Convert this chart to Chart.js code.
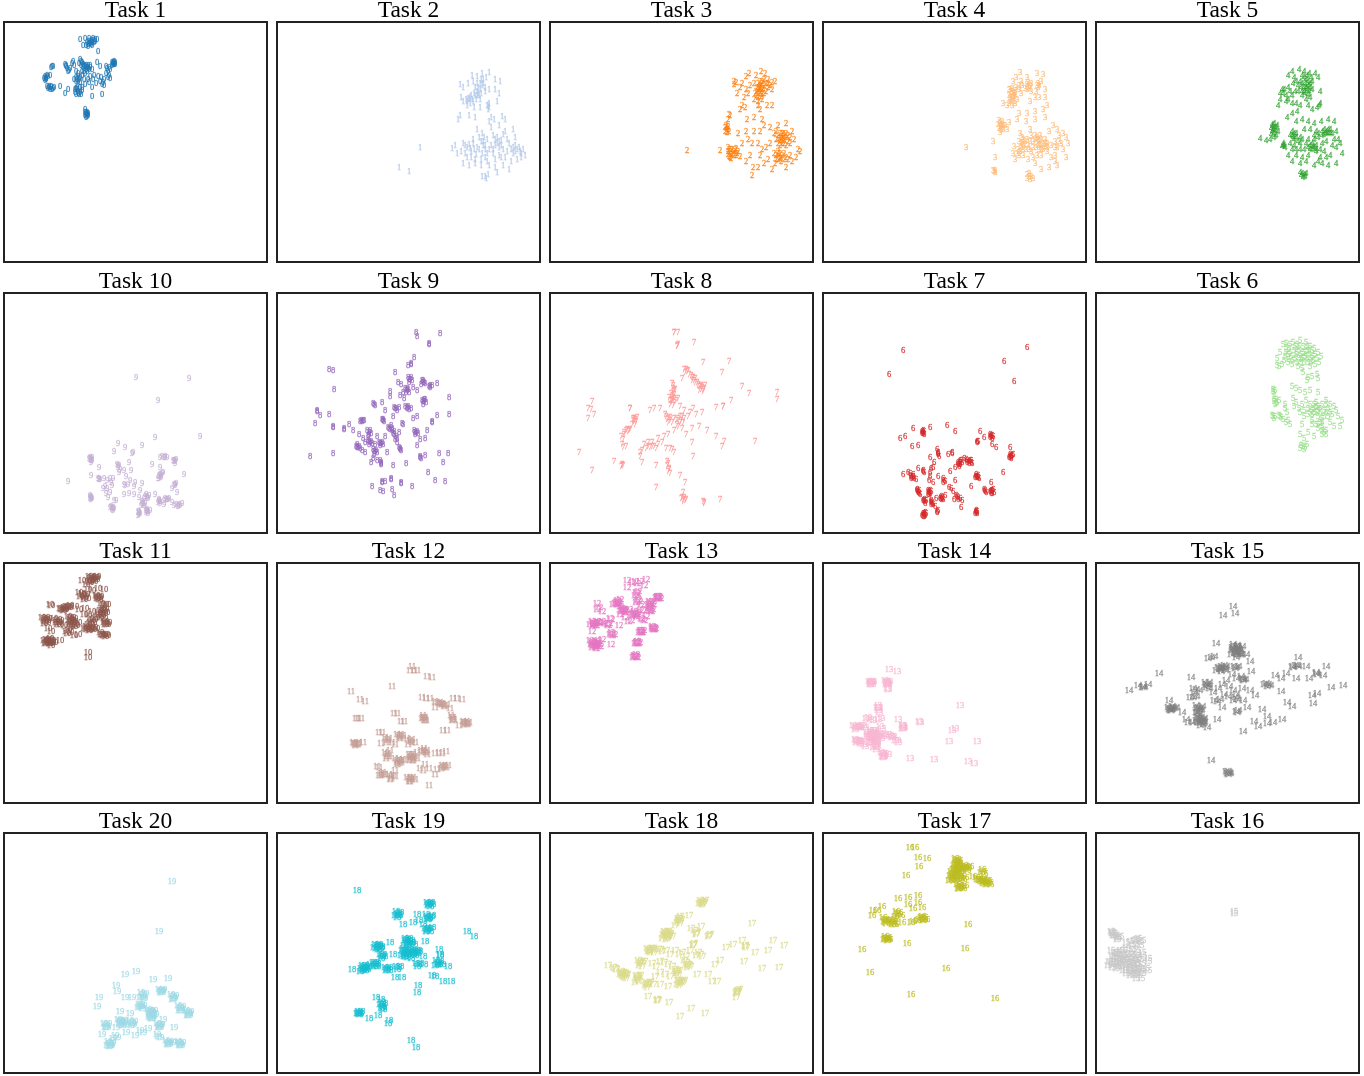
<!DOCTYPE html>
<html>
<head>
<meta charset="utf-8">
<title>Task embeddings</title>
<script src="https://cdn.jsdelivr.net/npm/chart.js@4/dist/chart.umd.min.js"></script>
<style>
	html, body { margin: 0; padding: 0; background: #fff; }
	#grid { position: relative; width: 1364px; height: 1076px; overflow: hidden; }
	#grid canvas { position: absolute; }
</style>
</head>
<body>
<div id="grid"></div>
<script>
// Embedding values, one list per task: [x, y]
var task1 = [[76,18],[81,17],[85,17],[89,17],[93,18],[88,21],[86,22],[84,23],[90,21],[82,24],[87,23],[91,20],[85,20],[79,24],[87,19],[94,30],[48,45],[47,46],[49,45],
	[61,43],[62,45],[64,50],[66,47],[69,40],[76,38],[77,40],[78,41],[75,42],[79,46],[80,44],[83,46],[82,48],[86,46],[85,48],[83,50],[81,52],[74,55],[73,58],[76,56],[75,58],[72,56],[78,54],
	[93,41],[96,45],[102,45],[106,48],[104,50],[104,56],[106,57],[105,54],[98,63],[96,60],[99,61],[100,58],[89,58],[90,54],[84,58],[85,61],[81,63],[88,66],[92,62],[73,68],[71,71],[76,71],[74,70],[72,67],[75,73],[78,69],[61,72],[64,68],[88,75],[98,73],[56,65],
	[41,55],[42,57],[40,57],[43,54],[46,54],[41,59],[43,65],[45,66],[47,66],[49,67],[50,66],[44,67],[46,68],[81,88],[82,91],[83,93],[81,94],[83,95],[82,96],[84,94],[82,93],[109,42],[110,43],[109,43],[110,42],[109,41],[111,41],
	[62,44],[63,47],[65,49],[68,42],[70,44],[72,50],[74,52],[77,44],[79,43],[81,45],[84,44],[86,44],[88,48],[84,47],[82,44],[78,50],[80,50],[74,60],[76,61],[72,60],[70,58],[80,58],[86,55],[94,55],[97,56],[100,64],[102,52],[103,47],[105,46],[73,66],[76,66],[78,66],[71,68],[74,72],[77,73],[72,73],[42,56],[44,55],[42,58],[47,65],[48,68],[45,65],[108,41],[110,40],[111,43],[108,44],[83,91],[81,91],[84,92],[85,22],[87,21],[89,19],[83,21],[91,18],[88,24],[84,25]];
var task2 = [[183,63],[186,66],[191,62],[195,54],[200,55],[205,52],[212,51],[218,58],[223,60],[204,58],[206,62],[200,62],[196,60],[184,76],[186,80],[190,80],[193,76],[195,78],[198,74],[200,70],[203,68],[205,64],[202,74],[199,78],[203,78],[208,70],[212,68],[218,68],[222,72],[190,84],[197,86],[203,86],[210,84],[211,88],[212,82],[220,80],[212,86],[211,84],[192,78],[201,72],[204,72],
	[181,98],[183,94],[192,94],[198,96],[214,96],[217,98],[225,95],[228,98],[143,126],[122,146],[132,150],[208,155],[205,155],[209,157],[211,153],[220,151],
	[175,127],[178,124],[180,132],[184,130],[186,122],[188,132],[190,136],[192,123],[193,127],[196,118],[197,128],[199,133],[200,108],[202,116],[204,120],[206,124],[208,128],[205,132],[208,136],[210,140],[204,144],[214,106],[216,114],[218,118],[220,122],[222,126],[224,119],[226,113],[228,110],[230,118],[232,122],[234,128],[236,132],[238,124],[240,128],[243,130],[246,128],[248,134],[244,136],[240,138],[234,140],[228,136],[222,134],[216,132],[212,144],[218,146],[226,144],[232,148],[198,142],[192,144],[186,142],[205,112],[212,100],[222,104],[236,108],[238,116],[210,118],[214,124],[216,128],[196,122],
	[191,77],[194,74],[197,72],[200,74],[189,78],[196,80],[193,82],[201,66],[203,62],[206,58],[208,66],[209,56],[198,66],[188,124],[190,126],[194,130],[200,126],[202,128],[206,120],[207,116],[208,124],[210,132],[212,128],[218,124],[220,116],[222,120],[224,124],[226,128],[230,130],[236,126],[238,130],[242,126],[244,132],[224,136],[218,138],[204,138],[198,138],[194,136]];
var task3 = [[184,60],[184,63],[186,61],[192,62],[196,55],[199,52],[206,54],[211,50],[215,52],[218,58],[222,61],[225,60],[212,60],[214,64],[210,66],[208,68],[212,68],[206,70],[209,72],[214,72],[211,75],[207,74],[218,66],[222,68],[204,62],[200,64],[196,68],[190,66],[187,72],[194,76],[198,72],[204,78],[208,80],[192,84],[190,88],[195,86],[208,84],[210,88],[217,84],[222,84],[209,68],[211,70],[213,67],[210,64],
	[179,93],[180,94],[178,98],[176,106],[177,108],[175,110],[177,111],[178,105],[180,130],[179,128],[181,133],[178,133],[180,136],[184,130],[186,127],[188,130],[186,134],[190,135],[184,134],[182,128],[170,129],[137,129],
	[197,98],[204,96],[212,98],[214,104],[220,106],[228,104],[236,102],[210,110],[224,112],[228,114],[231,116],[234,118],[230,119],[236,112],[240,116],[232,122],[228,122],[236,124],[238,120],[242,110],[244,118],[248,128],[246,136],[240,134],[232,134],[230,137],[226,134],[228,130],[234,138],[231,140],[225,142],[218,138],[212,128],[208,122],[202,122],[198,118],[192,122],[188,112],[196,110],[204,110],[210,134],[216,126],[220,122],[214,142],[208,146],[203,146],[202,154],[196,140],[200,134],[222,148],[236,146],[242,140],[250,130],[229,117],[233,115],[232,119],[230,136],[228,138],
	[208,62],[210,60],[212,62],[216,62],[214,58],[218,62],[207,66],[209,66],[212,72],[208,76],[212,78],[205,72],[216,70],[220,64],[176,104],[178,108],[175,106],[179,110],[178,126],[181,128],[178,130],[183,132],[179,135],[181,137],[185,128],[187,132],[226,110],[230,112],[233,112],[236,116],[234,122],[230,124],[226,118],[238,114],[240,122],[234,114],[232,112],[228,132],[234,132],[236,136],[226,138],[230,132],[238,138],[224,132]];
var task4 = [[197,51],[193,56],[190,60],[198,60],[204,56],[214,52],[220,53],[218,60],[222,68],[215,62],[215,66],[213,70],[204,63],[204,65],[206,67],[202,67],[208,62],[208,70],[186,68],[188,70],[190,71],[192,69],[189,73],[186,74],[191,75],[187,76],[193,66],[196,64],[198,72],[188,79],[190,80],[186,82],[189,84],[192,82],[194,78],[180,82],[184,84],[207,80],[212,76],[216,76],[222,76],
	[212,90],[220,88],[224,84],[196,92],[204,92],[212,98],[222,96],[176,99],[179,100],[175,103],[178,104],[176,107],[180,108],[177,111],[182,104],[184,108],[186,101],[194,98],[203,100],[143,126],[170,120],[172,136],[171,150],[172,151],[170,149],[172,149],[206,155],[204,153],[208,155],[206,152],[210,157],[204,157],[207,158],
	[197,112],[199,116],[196,120],[199,121],[201,124],[198,126],[203,128],[195,128],[191,125],[190,132],[192,138],[196,134],[200,134],[205,138],[208,130],[210,126],[212,118],[215,118],[217,114],[214,122],[218,124],[222,125],[220,128],[224,122],[222,118],[224,130],[218,134],[216,128],[226,110],[230,104],[234,108],[236,114],[240,112],[243,116],[245,122],[238,122],[240,128],[243,136],[232,134],[232,140],[234,144],[226,146],[218,148],[212,142],[204,118],[208,114],[207,108],[232,120],[228,124],
	[187,68],[189,67],[191,72],[187,78],[190,76],[192,74],[196,68],[199,64],[205,61],[207,64],[204,68],[214,64],[216,64],[177,101],[179,104],[177,105],[180,104],[178,108],[200,118],[198,122],[202,120],[200,128],[205,124],[207,120],[210,120],[212,114],[214,116],[216,120],[218,118],[220,122],[222,122],[224,126],[216,124],[218,128],[213,126],[206,128],[194,132],[197,130],[236,120],[234,126],[232,126],[210,136],[214,134],[228,136]];
var task5 = [[192,54],[196,50],[203,48],[208,50],[213,52],[219,52],[222,56],[208,56],[210,58],[212,60],[209,62],[212,64],[214,66],[211,68],[213,70],[209,72],[212,73],[216,68],[200,60],[197,62],[205,66],[202,70],[186,68],[184,72],[190,74],[188,68],[196,74],[224,70],[214,76],[210,78],[206,74],[190,80],[184,78],[182,84],[196,82],[200,82],[204,84],[212,84],[216,88],[223,84],[221,86],[224,82],[201,90],[196,92],
	[176,103],[178,102],[181,104],[175,107],[177,108],[179,109],[176,110],[178,112],[180,114],[175,113],[164,117],[170,119],[174,118],[187,122],[188,124],[186,125],[189,126],[187,124],[178,116],
	[191,96],[200,100],[206,98],[212,100],[218,102],[225,100],[232,98],[238,100],[208,108],[214,108],[220,110],[226,110],[230,110],[232,112],[234,108],[228,113],[236,112],[240,110],[196,110],[198,112],[200,116],[194,114],[202,120],[194,122],[198,124],[204,122],[210,122],[214,124],[217,125],[220,124],[216,128],[220,128],[226,122],[230,120],[236,124],[240,126],[244,122],[246,132],[234,134],[228,130],[224,136],[220,130],[212,134],[206,136],[200,134],[192,134],[196,140],[204,142],[210,140],[218,144],[226,142],[232,144],[240,142],[206,152],[208,153],[205,154],[207,156],[209,155],[204,151],[210,152],
	[206,54],[211,54],[215,56],[204,60],[206,62],[216,60],[214,62],[208,66],[210,66],[206,70],[208,70],[202,64],[198,56],[192,66],[194,70],[187,72],[192,78],[199,70],[180,106],[182,110],[176,105],[178,106],[196,114],[197,116],[198,118],[200,112],[204,116],[206,118],[212,118],[216,122],[218,118],[222,116],[228,108],[230,112],[232,108],[234,112],[226,114],[222,112],[218,114],[214,128],[218,126],[212,126],[208,128],[204,128],[200,128],[196,128],[238,118],[242,118],[224,128],[230,136],[222,140]];
var task6 = [[181,66],[184,60],[187,52],[190,51],[193,56],[197,50],[201,52],[204,48],[210,50],[214,54],[218,56],[222,60],[225,64],[223,70],[219,72],[214,74],[206,76],[202,74],[196,72],[192,70],[188,68],[186,72],[183,74],[198,58],[200,62],[203,58],[205,62],[207,60],[209,64],[211,58],[213,62],[215,66],[207,66],[203,66],[199,66],[195,64],[192,62],[208,70],[212,70],[217,64],[181,73],
	[207,80],[212,85],[211,88],[221,82],[222,86],[216,84],[177,99],[178,100],[180,107],[178,109],[181,110],[183,108],[179,112],[189,112],[189,116],[177,124],[178,126],[185,125],[183,123],[187,127],[190,130],[194,132],[192,128],[191,120],[196,94],[200,96],[204,98],[209,100],[214,98],[222,100],[197,106],[200,110],[198,114],[203,116],[206,112],[210,108],[214,112],[204,120],[208,124],[212,122],[216,118],[220,110],[222,114],[224,120],[226,112],[230,108],[234,112],[238,114],[240,118],[236,122],[232,124],[228,118],[226,126],[224,130],[220,132],[216,128],[222,136],[226,138],[230,142],[234,130],[242,124],[246,128],[244,134],[238,134],[218,144],[212,140],[206,132],[208,146],[204,142],[205,153],[207,154],[209,155],[204,156],[211,152],[208,157],[218,112],[222,124],[220,120],[226,142],
	[190,55],[194,52],[199,54],[203,54],[207,54],[211,54],[216,58],[219,62],[221,66],[190,60],[194,60],[201,60],[205,66],[209,60],[213,58],[217,68],[211,66],[201,70],[197,68],[193,67],[189,64],[205,70],[215,70],[177,97],[179,98],[178,107],[180,111],[176,123],[179,124],[184,124],[218,116],[220,114],[222,118],[218,120],[216,122],[224,116],[230,112],[232,116],[234,120],[230,120],[228,124],[226,134],[222,132],[226,130],[230,138],[228,140],[216,132],[214,120],[212,116],[208,118]];
var task7 = [[80,58],[66,82],[204,55],[181,69],[191,89],[77,146],[82,144],[90,136],[107,135],[100,138],[100,140],[101,142],[99,141],[101,139],[124,133],[132,139],[157,139],[161,145],[167,142],[168,144],[169,146],[170,144],[167,145],[154,149],[154,150],[155,149],[169,152],[173,155],[187,155],[187,162],[188,164],[189,163],[188,166],[190,162],[186,165],[89,154],[95,153],[114,157],[115,160],[115,162],[116,164],[107,165],[125,162],[129,160],[129,161],
	[135,170],[137,168],[137,172],[136,174],[139,170],[141,166],[143,167],[144,168],[146,169],[148,170],[149,171],[147,168],[153,182],[154,184],[156,186],[155,183],[152,185],[180,180],[148,194],[161,197],[162,198],[163,200],[170,197],[169,199],[168,201],[171,200],[167,199],[168,190],[87,181],[88,184],[90,184],[91,186],[93,187],[85,180],[100,178],[100,179],[101,180],[107,180],[107,184],[106,188],[108,176],[110,190],
	[94,198],[95,199],[96,201],[97,202],[94,197],[105,198],[106,200],[107,201],[105,202],[108,199],[100,208],[101,209],[102,211],[103,208],[108,209],[109,210],[110,212],[108,212],[118,204],[119,205],[120,207],[117,206],[122,203],[133,203],[135,205],[137,206],[139,208],[131,207],[100,221],[101,222],[102,223],[99,223],[103,221],[100,224],[114,219],[115,218],[114,220],[153,219],[153,220],[154,221],[152,221],[138,215],[80,182],[95,176],[115,184],[120,186],[121,188],[122,189],[120,190],[127,179],[132,175],[132,188],[126,195],[111,170],[110,175],[112,214],[113,206],[130,199],[128,196],
	[100,141],[99,139],[168,143],[169,143],[188,163],[187,165],[137,170],[136,172],[138,168],[135,172],[144,170],[146,171],[148,168],[154,185],[155,185],[153,184],[162,199],[169,198],[169,201],[168,198],[89,185],[90,182],[88,186],[95,200],[96,198],[106,199],[107,198],[106,202],[101,207],[102,208],[109,211],[108,208],[119,206],[118,207],[101,221],[102,220],[101,224],[153,218],[154,219],[115,161],[135,207],[134,204]];
var task8 = [[124,40],[124,40],[128,40],[127,53],[127,54],[128,52],[144,50],[153,70],[179,69],[172,80],[192,94],[199,101],[227,100],[227,107],[181,108],[166,115],[173,114],[173,114],[80,116],[80,116],[42,109],[38,116],[41,117],[44,122],[38,126],[29,160],[42,178],[64,169],[72,172],[72,173],[73,173],[71,174],[106,195],
	[134,77],[136,77],[138,78],[135,80],[132,86],[141,83],[143,85],[145,86],[142,88],[145,90],[148,92],[150,94],[152,95],[154,96],[151,97],[153,99],[155,93],[149,98],[122,91],[123,96],[123,99],[125,97],[121,101],[124,102],[119,105],[122,107],[122,109],[124,110],[120,112],[123,113],[126,108],[128,106],[130,114],[134,118],
	[83,126],[85,127],[87,125],[84,129],[82,132],[85,132],[76,138],[78,139],[80,137],[74,142],[71,144],[73,147],[72,152],[73,155],[76,154],[100,118],[104,116],[110,116],[115,122],[117,127],[120,125],[118,130],[122,130],[126,128],[130,124],[131,128],[134,126],[127,132],[133,130],[138,124],[140,120],[143,116],[132,136],[136,142],[124,138],[118,142],[114,144],[108,146],[102,150],[98,150],[94,152],[92,158],[90,164],[92,170],[100,155],[104,154],[108,152],[112,150],[116,156],[120,156],[122,157],[124,160],[117,169],[118,171],[119,176],[118,179],[120,181],[130,183],[135,190],[133,200],[131,206],[133,207],[135,208],[133,209],[136,207],[153,209],[154,211],[170,207],[142,150],[143,164],[205,149],[172,154],[174,149],[166,144],[157,138],[149,134],[142,136],[106,173],[152,120],[146,122],
	[137,79],[139,82],[142,85],[144,88],[147,90],[149,94],[151,93],[153,97],[123,93],[124,98],[122,103],[123,105],[121,108],[124,106],[120,108],[84,126],[86,129],[83,128],[77,137],[79,138],[74,140],[96,156],[98,154],[102,154],[106,156],[90,160],[116,124],[118,126],[120,128],[124,126],[128,126],[130,130],[128,134],[132,124],[119,177],[117,173],[134,205],[132,205],[154,210]];
var task9 = [[139,40],[140,44],[163,41],[152,51],[152,52],[137,65],[134,72],[134,71],[131,73],[52,77],[56,78],[118,80],[57,97],[40,119],[40,118],[43,123],[52,122],[38,131],[56,134],[56,135],[67,136],[67,137],[33,164],[56,161],
	[131,85],[133,87],[135,88],[132,90],[128,96],[130,98],[132,100],[129,100],[145,88],[146,90],[148,91],[144,92],[152,94],[153,95],[155,93],[145,108],[147,109],[149,110],[146,112],[148,107],[117,115],[119,116],[120,118],[122,115],[128,114],[130,115],[132,117],[134,116],[137,138],[139,140],[141,141],[138,142],[111,135],[113,137],[115,138],[116,141],[117,142],[119,144],[114,133],[118,147],[120,150],
	[90,138],[92,140],[94,141],[91,143],[91,148],[93,150],[95,151],[92,152],[79,154],[81,155],[83,156],[85,158],[80,152],[102,150],[104,151],[106,152],[103,153],[96,157],[98,159],[100,160],[97,162],[103,168],[104,170],[104,172],[96,166],[83,129],[85,129],[87,128],[105,127],[106,128],[107,129],[96,111],[97,112],[98,113],[122,155],[123,156],[124,158],[125,131],[126,132],
	[172,105],[160,91],[172,122],[160,123],[155,129],[155,130],[150,138],[148,146],[143,147],[140,153],[148,163],[143,164],[143,165],[144,166],[162,161],[171,161],[166,170],[151,180],[158,188],[168,189],[135,194],[124,190],[124,191],[117,203],[115,197],[106,199],[103,198],[95,194],[105,189],[105,190],[108,189],[114,186],[114,187],[116,173],[129,171],[105,110],[113,99],[113,104],[121,90],[123,103],[140,124],[127,106],[116,124],[108,118],[72,132],[76,138],[82,142],[88,160],[94,170],[110,160],[136,126],
	[132,87],[134,85],[130,96],[131,97],[146,88],[147,90],[153,93],[146,109],[147,107],[118,116],[130,116],[131,114],[138,140],[140,139],[112,136],[115,136],[117,139],[92,142],[93,138],[92,149],[94,149],[80,155],[82,154],[103,151],[105,150],[97,159],[99,158],[104,171],[84,128],[86,128],[106,127],[123,157],[120,146],[122,140],[108,144],[100,144],[98,152],[88,150],[86,146],[100,168],[136,95],[140,98],[124,92],[126,100]];
var task10 = [[132,85],[185,86],[154,108],[151,145],[196,144],[64,189],[86,165],[87,167],[88,168],[85,166],[88,165],[87,170],[86,203],[87,205],[87,207],[88,206],[86,206],[107,214],[108,216],[109,218],[110,216],[106,215],[134,219],[135,220],[134,223],[136,221],[143,217],[143,219],[144,221],[142,220],[146,218],[142,202],[143,204],[145,203],[140,206],[144,206],[138,209],[139,212],[141,211],[137,213],[155,208],[155,209],[156,211],[154,210],[161,206],[163,207],[165,206],[160,208],[172,212],[174,214],[176,213],[170,213],[178,211],[155,183],[156,184],[157,185],[154,186],[158,181],[159,180],[169,168],[170,169],[171,171],[172,167],[158,164],[161,164],[163,165],[156,165],[170,192],[171,193],[172,191],[168,196],[94,186],[95,187],[96,187],[113,172],[114,175],[116,177],[120,178],[115,173],[114,151],[121,155],[129,160],[128,161],[138,153],[110,159],[125,170],[127,178],[95,175],[87,183],
	[100,186],[103,188],[106,186],[107,190],[109,186],[108,193],[101,194],[103,196],[99,196],[102,201],[106,200],[104,205],[110,208],[112,208],[120,192],[121,193],[124,192],[120,202],[125,201],[130,202],[130,194],[136,198],[138,191],[135,205],[115,180],[122,184],[126,188],[131,190],[148,172],[156,175],[160,165],[180,182],[173,200],[168,210],[160,212],[151,202],
	[86,167],[87,166],[87,168],[86,205],[87,204],[108,215],[108,217],[109,215],[135,222],[135,219],[143,218],[144,219],[142,218],[143,205],[141,204],[139,210],[140,213],[138,211],[156,209],[155,207],[162,207],[164,207],[174,213],[175,212],[156,182],[157,183],[155,186],[170,168],[171,168],[161,165],[171,192],[95,186],[114,173]];
var task11 = [[85,14],[87,15],[89,16],[91,15],[93,14],[88,18],[90,19],[86,20],[92,17],[84,19],[78,18],[82,22],[84,27],[88,28],[94,26],[100,27],[75,30],[78,31],[79,33],[81,34],[83,36],[80,37],[76,34],[92,33],[94,35],[96,34],[93,36],[95,37],[56,46],[58,46],[60,45],[62,44],[64,44],[66,43],[59,48],[61,47],[46,42],[47,43],[71,44],[75,47],[81,46],[97,41],[99,43],[101,42],[103,42],[96,48],[98,50],[100,49],[102,50],[94,52],[92,55],[96,55],[98,53],[100,56],[88,49],[84,52],[80,52],
	[38,55],[40,56],[42,57],[44,56],[41,59],[43,60],[40,61],[50,56],[52,58],[54,60],[56,58],[53,62],[56,62],[60,63],[64,54],[66,55],[68,55],[70,56],[67,58],[69,60],[71,62],[65,62],[67,64],[72,63],[74,60],[44,66],[47,69],[62,69],[64,68],[66,70],[63,71],[70,73],[74,72],[80,66],[82,67],[84,66],[86,67],[88,66],[90,65],[92,66],[84,62],[86,60],[88,58],[90,57],[86,56],[100,60],[102,61],[104,60],[101,62],[97,72],[99,73],[101,74],[103,73],[96,70],
	[40,78],[42,77],[44,78],[46,79],[48,78],[43,80],[45,81],[47,80],[41,81],[46,76],[50,80],[56,78],[47,83],[84,90],[84,95],
	[86,16],[88,14],[90,17],[92,15],[86,18],[78,32],[80,35],[82,32],[93,34],[95,35],[57,47],[60,47],[63,45],[65,45],[98,48],[100,51],[97,52],[99,46],[101,47],[94,50],[42,55],[40,58],[43,58],[52,60],[55,60],[54,57],[66,57],[68,58],[66,60],[70,59],[68,62],[70,64],[83,65],[85,68],[87,65],[89,67],[82,64],[87,62],[89,60],[101,59],[103,62],[98,72],[100,72],[102,72],[43,78],[45,77],[47,78],[44,79],[42,80],[46,81],[48,80]];
var task12 = [[135,104],[133,108],[137,108],[140,108],[150,114],[155,115],[115,124],[74,129],[83,137],[88,139],[145,135],[149,136],[153,136],[176,136],[180,136],[185,137],[158,139],[160,140],[162,141],[164,142],[166,142],[168,143],[170,142],[158,145],[173,146],[146,153],[148,155],[147,158],[145,156],[149,158],[174,153],[176,155],[175,158],[177,157],[186,159],[188,160],[190,159],[192,160],[187,162],[190,162],[182,163],[79,156],[81,156],[84,156],[117,151],[120,151],[124,159],[127,159],[166,168],[170,168],[102,170],[105,170],[76,180],[78,181],[80,181],[82,180],[78,183],[86,180],
	[120,172],[122,173],[124,174],[126,173],[123,176],[108,175],[110,177],[112,176],[109,180],[130,176],[133,179],[135,177],[138,180],[131,182],[115,180],[118,182],[104,181],[108,190],[110,192],[112,194],[109,196],[113,188],[118,196],[120,198],[122,199],[124,200],[120,202],[126,197],[128,198],[132,192],[134,194],[136,192],[138,194],[133,197],[135,198],[140,190],[140,196],[144,188],[146,189],[148,190],[150,188],[147,186],[150,192],[158,191],[162,190],[165,191],[169,189],[100,204],[102,205],[104,211],[106,210],[108,212],[102,213],[112,212],[114,214],[116,213],[113,217],[118,214],[130,215],[132,217],[134,216],[136,215],[133,219],[138,217],[165,203],[167,204],[169,205],[171,203],[164,206],[160,207],[158,212],[152,223],[148,202],[146,208],[152,206],[143,206],[118,208],
	[147,155],[148,157],[146,155],[175,155],[176,157],[187,160],[189,161],[191,161],[77,181],[79,182],[81,182],[122,175],[124,172],[111,178],[133,178],[135,180],[110,194],[111,191],[120,200],[122,197],[124,198],[122,201],[134,192],[135,195],[133,195],[137,196],[136,198],[147,188],[149,190],[104,213],[106,212],[114,216],[133,215],[135,217],[132,219],[166,205],[168,203],[163,140],[165,141],[167,144]];
var task13 = [[77,18],[82,20],[85,19],[87,21],[90,19],[96,17],[94,23],[77,25],[86,30],[87,31],[88,29],[85,33],[88,37],[87,38],[89,39],[86,40],[91,42],[107,34],[108,35],[109,34],[107,36],[110,36],[99,39],[100,40],[102,39],[98,42],[103,42],[67,38],[68,39],[70,37],[65,41],[67,42],[63,42],[70,44],[47,41],[49,45],[47,47],[52,49],[72,46],[73,47],[75,47],[74,49],[71,49],[76,50],[99,45],[100,46],[102,47],[98,48],[101,49],[84,49],[85,51],[87,50],[83,53],[86,54],[82,52],[90,48],[93,48],[92,57],[94,58],[91,56],[96,54],
	[42,59],[43,60],[45,61],[47,59],[40,62],[43,63],[46,63],[49,60],[50,60],[52,59],[54,61],[57,62],[59,61],[58,63],[60,56],[61,57],[69,63],[78,59],[81,58],[75,55],[79,47],[70,52],[102,64],[103,65],[105,66],[104,67],[102,66],[90,68],[91,69],[93,68],[92,70],[89,70],[61,70],[62,71],[64,72],[60,72],[42,69],[87,79],[86,80],[88,81],[85,81],[89,80],[84,93],[85,94],[87,95],[83,95],[86,92],
	[40,78],[42,79],[44,80],[46,79],[48,78],[41,82],[43,83],[45,84],[47,82],[49,81],[50,84],[42,85],[46,86],[52,77],[61,82],
	[108,34],[108,36],[106,35],[100,42],[101,41],[68,40],[66,40],[69,41],[73,48],[75,48],[72,48],[100,48],[100,44],[85,52],[84,51],[87,52],[44,61],[46,61],[43,62],[104,65],[103,67],[91,68],[91,70],[62,73],[87,81],[87,79],[85,94],[86,94],[43,80],[45,81],[47,81],[44,83],[46,83],[48,82],[42,81],[47,84]];
var task14 = [[66,107],[74,109],[46,119],[48,120],[50,119],[47,122],[49,122],[62,118],[64,120],[66,119],[63,122],[65,122],[64,126],[65,127],[55,143],[56,145],[54,145],[55,148],[56,150],[45,155],[43,156],[47,157],[50,158],[55,157],[58,156],[75,157],[79,163],[80,164],[81,165],[79,166],[96,159],[97,160],[30,163],[32,164],[34,165],[36,164],[38,163],[40,163],[42,165],[32,167],
	[44,170],[46,172],[48,170],[50,168],[52,170],[54,172],[50,174],[46,176],[48,178],[52,176],[54,178],[56,174],[44,174],[50,180],[46,180],[57,164],[59,166],[58,172],[60,174],[62,172],[65,172],[67,173],[69,175],[72,178],[74,178],[75,180],[32,177],[34,178],[36,178],[38,179],[33,180],[37,181],[52,182],[54,184],[50,185],[53,187],[40,182],[42,184],[58,190],[60,192],[62,191],[59,194],[61,194],[65,192],[87,196],[111,197],[145,199],[151,201],[126,179],[154,179],[129,168],[132,166],[137,143],[48,172],[52,173],[47,168],
	[48,119],[47,121],[49,120],[64,119],[65,121],[63,120],[55,146],[80,163],[80,166],[33,165],[35,165],[37,165],[48,174],[50,172],[52,168],[50,170],[46,174],[52,178],[54,174],[56,172],[48,176],[50,176],[54,180],[48,180],[44,172],[58,176],[35,179],[33,178],[37,179],[60,191],[61,193],[60,195],[68,174],[70,174],[52,184],[53,182]];
var task15 = [[137,44],[127,53],[139,51],[120,81],[63,111],[95,115],[33,128],[42,123],[46,125],[47,124],[48,125],[52,122],[72,145],[74,146],[76,147],[78,146],[74,148],[76,144],[80,145],[73,138],[100,143],[102,145],[104,146],[106,144],[103,148],[100,150],[102,154],[104,156],[106,157],[108,156],[100,158],[103,160],[106,160],[108,160],[104,163],[92,160],[96,160],[111,165],[86,150],[90,157],
	[136,85],[138,87],[140,88],[142,86],[144,88],[139,91],[141,92],[143,90],[137,82],[141,83],[146,92],[135,92],[140,95],[146,84],[150,92],[122,105],[124,107],[126,105],[128,103],[130,104],[120,108],[125,109],[129,108],[115,95],[118,94],[112,96],[138,104],[140,105],[142,104],[154,99],[155,109],[146,116],[147,118],[149,117],[145,114],[109,120],[111,122],[113,120],[110,125],[113,126],[97,126],[100,127],[103,128],[98,130],[94,135],[97,135],[100,134],[117,130],[122,126],[126,122],[130,118],[133,124],[137,128],[140,132],[139,135],[141,137],[137,138],[118,138],[121,139],[124,137],[128,132],[132,134],[136,112],[140,116],[140,149],[141,150],[142,148],[151,145],[147,138],[121,157],[126,145],[159,133],[154,128],[146,126],
	[168,122],[170,121],[172,122],[174,123],[171,124],[132,209],[133,210],[131,211],[134,211],[132,212],[130,209],[115,198],[147,169],[162,164],[158,159],[171,161],[177,160],[186,157],[171,154],[166,147],[191,140],[196,144],[185,129],[217,141],[216,133],[221,131],[235,125],[247,123],[227,113],[220,110],[220,111],[221,112],[213,116],[200,116],[185,116],[190,111],[179,113],[196,104],[197,105],[199,103],[201,103],[202,104],[210,104],[202,95],[230,104],
	[137,86],[139,88],[141,86],[143,87],[138,90],[140,90],[142,92],[136,88],[144,92],[142,84],[138,84],[140,84],[123,106],[125,106],[127,106],[125,104],[129,106],[139,106],[147,117],[110,122],[112,123],[75,146],[77,145],[73,147],[75,148],[101,146],[103,146],[105,148],[101,150],[103,152],[105,155],[103,157],[105,158],[107,158],[101,160],[104,160],[107,162],[101,155]];
var task16 = [[138,79],[138,81],[15,99],[16,100],[18,101],[17,103],[20,103],[22,105],[24,104],[21,107],[30,110],[34,109],[38,108],[40,107],[42,106],[44,109],[46,108],[36,112],[40,112],[44,113],[30,116],[33,117],[37,117],[41,118],[46,120],[47,123],[15,118],[18,120],[21,120],[24,118],[27,118],[16,124],[19,124],[21,126],[24,126],[28,123],[32,122],[36,122],[40,123],[13,129],[15,130],[18,130],[21,132],[24,130],[28,128],[32,127],[36,129],[40,128],[44,127],[52,126],[52,129],[12,133],[16,135],[20,136],[24,134],[30,132],[34,133],[38,133],[42,132],[46,131],[27,138],[30,138],[34,139],[38,138],[42,137],[46,137],[50,136],[30,141],[34,143],[38,142],[42,143],[46,141],[40,146],[45,146],[52,138],
	[16,101],[18,103],[21,105],[20,121],[23,122],[26,122],[18,127],[22,129],[26,127],[30,125],[34,125],[38,126],[42,125],[16,132],[22,134],[26,132],[32,130],[36,131],[40,131],[30,135],[34,136],[38,136],[42,135],[36,141],[40,140],[44,139]];
var task17 = [[87,15],[92,15],[95,25],[104,26],[96,34],[83,43],[132,26],[134,27],[136,28],[133,30],[135,31],[131,33],[134,35],[136,36],[138,34],[130,37],[133,39],[135,40],[128,39],[137,39],[141,33],[143,34],[145,35],[147,34],[140,37],[144,38],[127,43],[129,43],[131,44],[133,43],[136,44],[128,47],[130,48],[133,47],[138,46],[140,47],[142,45],[126,48],[134,52],[136,54],[138,55],[140,56],[142,53],[135,56],[159,37],[160,39],[161,41],[158,40],[154,47],[156,48],[158,47],[160,49],[162,50],[164,49],[166,50],[163,52],[167,52],[161,47],[150,44],[153,45],
	[75,66],[85,65],[95,63],[85,72],[95,70],[90,76],[99,75],[50,78],[54,78],[59,74],[49,83],[60,85],[62,87],[64,88],[61,89],[63,91],[68,88],[70,90],[72,92],[69,92],[71,87],[73,79],[74,81],[76,80],[72,84],[78,83],[98,85],[99,86],[101,85],[103,87],[96,87],[94,88],[100,88],[90,89],[88,90],[79,90],[62,104],[63,106],[65,105],[61,107],[64,108],[66,107],[84,111],[145,92],[39,117],[142,116],[47,140],[123,136],[88,162],[172,166],
	[133,28],[135,29],[132,32],[134,33],[136,32],[131,36],[133,37],[135,38],[137,37],[139,36],[142,35],[144,36],[129,41],[131,41],[133,41],[129,45],[131,46],[135,46],[137,44],[139,44],[137,53],[139,54],[136,56],[156,47],[158,49],[160,48],[162,48],[164,51],[165,48],[160,51],[63,88],[62,90],[70,89],[71,91],[75,82],[99,84],[101,87],[64,106],[62,106],[65,107]];
var task18 = [[150,68],[152,69],[154,70],[151,71],[153,72],[149,71],[155,68],[128,86],[129,88],[131,87],[127,90],[130,91],[125,93],[139,83],[130,84],[114,99],[116,100],[118,99],[120,101],[113,102],[115,103],[117,104],[119,105],[122,104],[112,106],[116,107],[146,101],[146,102],[147,100],[159,103],[160,102],[158,104],[151,94],[141,96],[144,98],[202,91],
	[97,116],[99,117],[101,116],[103,118],[98,119],[100,120],[104,120],[108,117],[110,117],[112,119],[143,112],[143,113],[144,111],[148,120],[150,122],[152,124],[146,123],[129,122],[125,118],[132,120],[136,124],[140,118],[120,122],[116,118],[88,128],[90,130],[92,131],[94,129],[89,133],[92,134],[102,131],[106,134],[110,129],[114,130],[136,130],[138,132],[140,134],[137,135],[134,128],[122,134],[118,132],
	[125,137],[127,139],[129,138],[126,141],[128,143],[71,139],[73,140],[75,141],[77,142],[72,143],[74,145],[76,146],[70,142],[65,136],[66,137],[63,135],[58,133],[86,143],[88,144],[90,143],[87,147],[89,149],[85,150],[96,150],[98,151],[100,150],[95,153],[97,155],[103,152],[128,148],[130,150],[132,149],[134,148],[127,152],[129,153],[120,144],[115,142],[110,140],[105,144],[147,142],[158,142],[162,149],[167,149],[165,132],[170,128],[194,129],[176,115],[183,112],[192,108],[195,113],[195,114],[196,115],[205,120],[218,118],[223,108],[234,113],[212,136],[229,135],[187,158],[188,159],[186,160],[187,161],[189,157],[186,165],[107,167],[107,168],[108,168],[98,164],[119,170],[141,176],[155,181],[130,184],[118,154],[110,152],
	[151,70],[153,70],[152,72],[129,86],[128,88],[130,89],[115,100],[117,101],[119,102],[116,102],[118,103],[114,104],[120,103],[118,106],[99,118],[101,118],[103,116],[100,118],[90,131],[91,129],[137,132],[139,133],[126,139],[127,141],[72,141],[74,141],[76,143],[73,144],[75,143],[71,141],[88,146],[88,148],[87,145],[97,152],[99,152],[129,150],[131,151],[133,150],[130,148],[187,159]];
var task19 = [[80,58],[190,99],[197,104],[150,70],[152,71],[154,70],[151,73],[153,74],[155,72],[119,79],[121,81],[123,80],[118,83],[122,83],[120,85],[150,84],[152,85],[154,84],[151,87],[149,82],[155,83],[140,82],[136,90],[142,88],[146,92],[148,96],[150,97],[152,96],[149,99],[153,99],[155,95],[126,92],[128,106],[130,107],[132,106],[134,108],[129,110],[131,111],[133,112],[135,110],[127,113],[137,112],[125,118],[127,119],[129,120],[131,122],[126,122],[128,124],[130,125],[124,123],[133,118],[135,120],[137,119],[139,118],[136,122],[138,123],[140,121],[142,119],[134,126],[98,112],[100,113],[102,112],[104,114],[99,116],[101,117],[103,116],[97,115],[103,122],[105,123],[107,124],[104,126],[106,122],[85,133],[87,134],[89,135],[91,134],[84,136],[86,137],[88,138],[90,137],[83,139],[96,130],[98,132],[100,131],[97,134],[100,134],[108,135],[110,136],[112,135],[109,138],[112,138],[119,134],[121,135],[123,134],[120,137],[139,131],[141,132],[143,131],[140,134],[147,132],[159,128],[161,130],[163,129],[160,132],[158,133],[165,132],[75,137],[118,145],[125,145],[155,143],[158,144],[166,149],[174,149],[141,153],[140,160],[104,167],[105,170],[107,171],[103,172],[105,174],[106,177],[104,176],[99,165],[81,179],[82,180],[83,181],[80,181],[84,179],[101,183],[92,186],[112,188],[111,191],[134,208],[139,215],[162,117],[163,122],[163,123],[171,134],[148,109],[113,110],[146,124],[116,122],[93,132],
	[151,72],[153,71],[120,82],[121,83],[152,86],[150,86],[150,98],[151,96],[130,108],[132,109],[134,110],[128,108],[130,112],[126,116],[128,118],[130,118],[128,121],[130,122],[132,120],[127,124],[135,118],[137,121],[139,120],[141,118],[100,115],[102,114],[104,115],[101,113],[105,124],[87,136],[89,136],[86,135],[88,133],[85,138],[98,130],[99,133],[110,137],[161,131],[162,132],[82,182],[81,181],[105,172],[106,175]];
var task20 = [[168,49],[155,99],[121,142],[132,139],[149,147],[164,146],[112,153],[113,159],[95,165],[93,174],[155,157],[157,158],[159,157],[156,160],[158,160],[167,162],[169,164],[171,163],[168,167],[170,166],[137,160],[139,162],[141,161],[136,165],[140,166],[135,172],[137,174],[139,173],[134,175],[138,176],[121,165],[128,165],[174,173],[176,175],[178,174],[175,178],[177,178],[182,178],[184,180],[186,179],[183,183],[185,183],[144,177],[146,178],[148,179],[150,178],[145,182],[147,183],[149,184],[151,182],[146,185],[148,186],[114,187],[116,188],[118,189],[120,188],[115,191],[117,192],[119,193],[121,192],[126,188],[128,190],[130,189],[127,193],[129,192],[100,191],[102,192],[104,191],[101,195],[103,195],[153,191],[155,193],[157,192],[154,195],[156,195],[170,195],[126,181],[116,179],[111,203],[113,205],[109,206],[104,209],[106,211],[108,210],[103,213],[105,214],[107,213],[153,202],[154,204],[156,205],[162,208],[164,210],[166,209],[163,212],[165,212],[168,210],[174,209],[176,211],[178,210],[175,213],[177,213],[139,200],[131,203],[98,202],[159,187],[122,200],[112,195],[144,196],[136,198],
	[157,159],[158,158],[169,166],[138,164],[139,165],[136,174],[137,172],[176,176],[177,176],[184,182],[185,181],[145,180],[147,180],[149,181],[147,178],[145,184],[147,186],[149,182],[116,190],[118,191],[120,190],[117,188],[128,191],[102,194],[155,194],[156,192],[105,211],[106,213],[164,211],[165,210],[176,212],[175,210]];

var task_lists = [task1,task2,task3,task4,task5,task6,task7,task8,task9,task10,task11,task12,task13,task14,task15,task16,task17,task18,task19,task20];
var task_colors = ['#1f77b4','#aec7e8','#ff7f0e','#ffbb78','#2ca02c','#98df8a','#d62728','#ff9896','#9467bd','#c5b0d5','#8c564b','#c49c94','#e377c2','#f7b6d2','#7f7f7f','#c7c7c7','#bcbd22','#dbdb8d','#17becf','#9edae5'];
var panel_order = [1,2,3,4,5,10,9,8,7,6,11,12,13,14,15,20,19,18,17,16]; // row 2 and 4 run backwards
var panel_lefts = [4,277,550,823,1096];
var panel_tops = [22,293,563,833];

// Digits are drawn at the points the scatter controller has placed
var digitLabels = {
	id: 'digitLabels',
	afterDatasetsDraw: function(chart){
		var ctx = chart.ctx,
			ds = chart.data.datasets[0],
			pts = chart.getDatasetMeta(0).data;
		ctx.save();
		ctx.font = '8.5px "Liberation Serif"';
		ctx.textAlign = 'center';
		ctx.textBaseline = 'middle';
		ctx.fillStyle = ds.borderColor;
		ctx.strokeStyle = ds.borderColor;
		ctx.lineWidth = 0.3;
		ctx.globalAlpha = 0.8;
		pts.forEach(function(p){
			ctx.fillText(ds.label, p.x, p.y);
			ctx.strokeText(ds.label, p.x, p.y);
		});
		ctx.restore();
	}
};

var panelFrame = {
	id: 'panelFrame',
	afterDraw: function(chart){
		var a = chart.chartArea, ctx = chart.ctx;
		ctx.save();
		ctx.strokeStyle = '#222';
		ctx.lineWidth = 2;
		ctx.strokeRect(a.left, a.top, a.right - a.left, a.bottom - a.top);
		ctx.restore();
	}
};

var grid = document.getElementById('grid');
panel_order.forEach(function(task, i){
	var c = document.createElement('canvas'),
		col = i % 5,
		row = Math.floor(i / 5);
	c.width = 271;
	c.height = 266;
	c.style.left = (panel_lefts[col] - 4) + 'px';
	c.style.top = (panel_tops[row] - 22) + 'px';
	grid.appendChild(c);

	new Chart(c.getContext('2d'), {
		type: 'scatter',
		data: {
			datasets: [{
				label: String(task - 1),
				data: task_lists[task - 1].map(function(p){ return {x: p[0], y: p[1]}; }),
				borderColor: task_colors[task - 1],
				pointRadius: 0
			}]
		},
		plugins: [digitLabels, panelFrame],
		options: {
			responsive: false,
			animation: false,
			layout: { autoPadding: false, padding: { left: 4, right: 4, top: 0, bottom: 4 } },
			plugins: {
				legend: { display: false },
				tooltip: { enabled: false },
				title: {
					display: true,
					text: 'Task ' + task,
					color: '#000',
					font: { family: '"Liberation Serif"', size: 23.5, weight: 'normal', lineHeight: 0.894 },
					padding: { top: 0, bottom: 1 }
				}
			},
			scales: {
				x: { display: false, min: 0, max: 263 },
				y: { display: false, min: 0, max: 240, reverse: true }
			}
		}
	});
});
</script>
</body>
</html>
